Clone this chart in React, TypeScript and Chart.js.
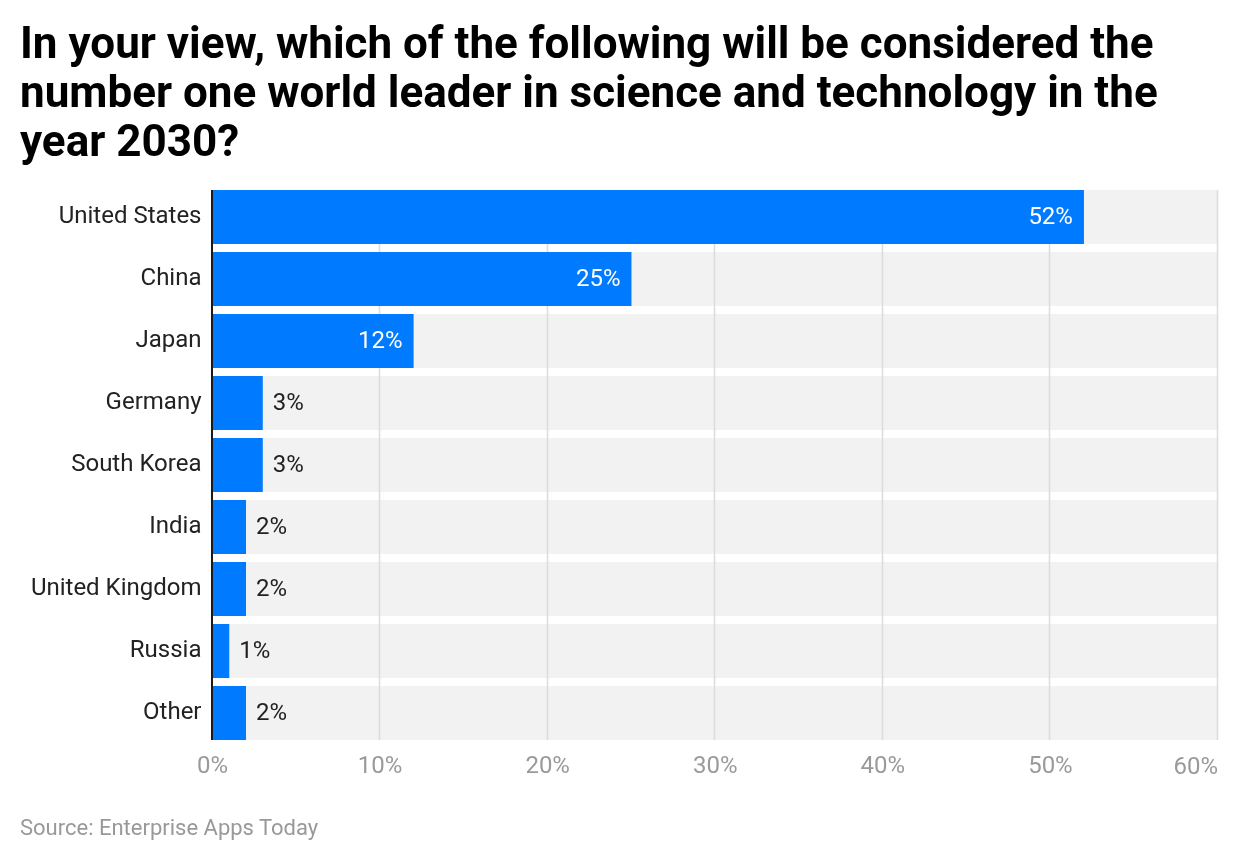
import React, { useEffect, useRef } from "react";
import { Chart, registerables } from "chart.js";

Chart.register(...registerables);

const categories = [
  "United States",
  "China",
  "Japan",
  "Germany",
  "South Korea",
  "India",
  "United Kingdom",
  "Russia",
  "Other",
];
const values = [52, 25, 12, 3, 3, 2, 2, 1, 2];
const xTicks = [0, 10, 20, 30, 40, 50, 60];

const titleLines = [
  "In your view, which of the following will be considered the",
  "number one world leader in science and technology in the",
  "year 2030?",
];
const sourceText = "Source: Enterprise Apps Today";

const FONT = "Roboto, 'Noto Sans', sans-serif";
const BAR_COLOR = "#007aff";
const BAND_COLOR = "#f2f2f2";
const GRID_COLOR = "#dcdcdc";
const TICK_COLOR = "#9a9a9a";
const TICK_PAD = 9;
const TICK_SIZE = 24;

const decorPlugin = {
  id: "decor",
  beforeDraw(chart: any) {
    const meta = chart.getDatasetMeta(0);
    const { ctx, chartArea } = chart;
    ctx.save();
    ctx.fillStyle = BAND_COLOR;
    meta.data.forEach((bar: any) => {
      const h = bar.height;
      ctx.fillRect(chartArea.left, bar.y - h / 2, chartArea.right - chartArea.left, h);
    });
    ctx.restore();
  },
  beforeDatasetsDraw(chart: any) {
    const meta = chart.getDatasetMeta(0);
    const { ctx } = chart;
    const xs = chart.scales.x;
    const first = meta.data[0];
    const last = meta.data[meta.data.length - 1];
    const top = first.y - first.height / 2;
    const bottom = last.y + last.height / 2;
    ctx.save();
    ctx.strokeStyle = GRID_COLOR;
    ctx.lineWidth = 1.5;
    xTicks.slice(1).forEach((t) => {
      const x = Math.round(xs.getPixelForValue(t)) - 0.5;
      ctx.beginPath();
      ctx.moveTo(x, top);
      ctx.lineTo(x, bottom);
      ctx.stroke();
    });
    ctx.restore();
  },
  afterDatasetsDraw(chart: any) {
    const meta = chart.getDatasetMeta(0);
    const { ctx } = chart;
    const xs = chart.scales.x;
    const first = meta.data[0];
    const last = meta.data[meta.data.length - 1];
    const top = first.y - first.height / 2;
    const bottom = last.y + last.height / 2;
    ctx.save();
    ctx.strokeStyle = "#1a1a1a";
    ctx.lineWidth = 2;
    const x0 = xs.getPixelForValue(0) - 0.5;
    ctx.beginPath();
    ctx.moveTo(x0, top);
    ctx.lineTo(x0, bottom);
    ctx.stroke();
    ctx.font = `24px ${FONT}`;
    ctx.textBaseline = "middle";
    meta.data.forEach((bar: any, i: number) => {
      const v = values[i];
      const label = `${v}%`;
      if (v >= 10) {
        ctx.fillStyle = "#ffffff";
        ctx.textAlign = "right";
        ctx.fillText(label, bar.x - 11, bar.y + 1);
      } else {
        ctx.fillStyle = "#222222";
        ctx.textAlign = "left";
        ctx.fillText(label, bar.x + 10, bar.y + 1);
      }
    });
    // last x tick label, right-justified to the plot edge
    const lastTick = xTicks[xTicks.length - 1];
    ctx.font = `${TICK_SIZE}px ${FONT}`;
    ctx.fillStyle = TICK_COLOR;
    ctx.textAlign = "right";
    ctx.textBaseline = "middle";
    ctx.fillText(`${lastTick}%`, xs.getPixelForValue(lastTick), xs.top + 24);
    ctx.restore();
  },
};

export default function App() {
  const canvasRef = useRef<HTMLCanvasElement | null>(null);

  useEffect(() => {
    if (!canvasRef.current) return;
    const chart = new Chart(canvasRef.current, {
      type: "bar",
      data: {
        labels: categories,
        datasets: [
          {
            data: values,
            backgroundColor: BAR_COLOR,
            borderWidth: 0,
            barPercentage: 1,
            categoryPercentage: 54 / 62,
          },
        ],
      },
      options: {
        indexAxis: "y",
        animation: false,
        responsive: false,
        maintainAspectRatio: false,
        layout: {
          padding: { top: 186, right: 22, bottom: 58, left: 0 },
        },
        plugins: {
          legend: { display: false },
          tooltip: { enabled: false },
          title: { display: false },
        },
        scales: {
          x: {
            type: "linear",
            min: 0,
            max: 60,
            grid: { display: false, drawTicks: false },
            border: { display: false },
            afterFit: (scale: any) => {
              scale.height = 60;
              scale.paddingLeft = 0;
              scale.paddingRight = 0;
            },
            afterBuildTicks: (scale: any) => {
              scale.ticks = xTicks.map((v) => ({ value: v }));
            },
            ticks: {
              padding: TICK_PAD,
              color: TICK_COLOR,
              font: { family: FONT, size: TICK_SIZE },
              callback: (v: any) => (v === xTicks[xTicks.length - 1] ? "" : `${v}%`),
              maxRotation: 0,
              autoSkip: false,
            },
          },
          y: {
            type: "category",
            grid: { display: false, drawTicks: false },
            border: { display: false },
            afterFit: (scale: any) => {
              scale.width = 212.5;
            },
            ticks: {
              padding: 11,
              color: "#222222",
              font: { family: FONT, size: 24 },
              autoSkip: false,
            },
          },
        },
      },
      plugins: [decorPlugin],
    });
    return () => chart.destroy();
  }, []);

  return (
    <div
      style={{
        position: "absolute",
        left: 0,
        top: 0,
        width: 1240,
        height: 862,
        background: "#ffffff",
        overflow: "hidden",
      }}
    >
      <canvas
        ref={canvasRef}
        width={1240}
        height={862}
        style={{ position: "absolute", left: 0, top: 0, width: 1240, height: 862 }}
      />
      <div
        style={{
          position: "absolute",
          left: 20,
          top: 19,
          fontFamily: FONT,
          fontWeight: 700,
          fontSize: 44,
          lineHeight: "49px",
          color: "#000000",
          whiteSpace: "nowrap",
        }}
      >
        {titleLines.map((l, i) => (
          <div key={i}>{l}</div>
        ))}
      </div>
      <div
        style={{
          position: "absolute",
          left: 20,
          top: 814,
          fontFamily: FONT,
          fontSize: 22,
          lineHeight: "28px",
          color: "#999999",
        }}
      >
        {sourceText}
      </div>
    </div>
  );
}
